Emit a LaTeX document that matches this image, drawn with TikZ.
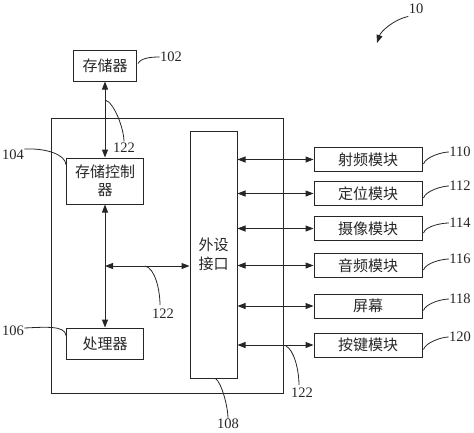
\documentclass[tikz,border=0pt]{standalone}
\usepackage{fontspec}
\setmainfont{Liberation Serif}
\newfontfamily\cjk{Noto Sans CJK SC}
\usetikzlibrary{positioning, arrows.meta}

\begin{document}
\begin{tikzpicture}[x=1pt,y=-1pt,>={Triangle[length=8pt,width=6pt]},
     line width=1pt, color=black!85,
     box/.style={draw, rectangle, inner sep=0pt, align=center,
                 font=\cjk\fontsize{15}{18.5}\selectfont},
     mod/.style={box, minimum width=108pt, minimum height=24pt},
     num/.style={inner sep=0pt, font=\fontsize{14.5}{16}\selectfont},
     lead/.style={-, line width=0.8pt}]

  \useasboundingbox (0,0) rectangle (474,432);

  % frame of the device
  \draw (51,118) rectangle (283,393);

  \node[box, minimum width=63pt, minimum height=31pt] (mem) at (105,65.5) {存储器};
  \node[box, minimum width=77pt, minimum height=46pt] (ctrl) at (105,181) {存储控制\\器};
  \node[box, minimum width=77pt, minimum height=31pt] (cpu) at (105,343.5) {处理器};
  \node[box, minimum width=47pt, minimum height=247pt] (io) at (213.5,254.5) {外设\\接口};
  \coordinate (hub) at (105,266);

  \node[mod] (rf)  at (368,159.5) {射频模块};
  \node[mod] (gps) at (368,193.5) {定位模块};
  \node[mod] (cam) at (368,228.5) {摄像模块};
  \node[mod] (aud) at (368,265.5) {音频模块};
  \node[mod] (scr) at (368,306)   {屏幕};
  \node[mod] (key) at (368,345)   {按键模块};

  % buses
  \draw[<->] (mem) -- (ctrl);
  \draw[<->] (ctrl) -- (cpu);
  \draw[<->] (hub) -- (hub -| io.west);
  \draw[<->] (io.east |- rf) -- (rf.west);
  \draw[<->] (io.east |- gps) -- (gps.west);
  \draw[<->] (io.east |- cam) -- (cam.west);
  \draw[<->] (io.east |- aud) -- (aud.west);
  \draw[<->] (io.east |- scr) -- (scr.west);
  \draw[<->] (io.east |- key) -- (key.west);

  % reference numbers
  \node[num] (n10)  at (416,9)   {10};
  \node[num] (n102) at (171,57)  {102};
  \node[num] (n104) at (13,155)  {104};
  \node[num] (n106) at (13,331)  {106};
  \node[num] (n108) at (228,424) {108};
  \node[num] (n122a) at (124,148) {122};
  \node[num] (n122b) at (163,314) {122};
  \node[num] (n122c) at (302,393) {122};
  \node[num] (n110) at (460,152) {110};
  \node[num] (n112) at (460,186) {112};
  \node[num] (n114) at (460,223) {114};
  \node[num] (n116) at (460,259) {116};
  \node[num] (n118) at (460,299) {118};
  \node[num] (n120) at (460,337) {120};

  % leaders
  \draw[lead, ->] ([yshift=-2pt]n10.south west) .. controls +(-14,3) and +(4,-12) .. (377,43);
  \draw[lead] ([xshift=1pt,yshift=2pt]mem.east) .. controls +(3,-6) and +(-7,0) .. (n102.west);
  \draw[lead] ([yshift=6pt]n104.east) .. controls +(22,-1) and +(-1,-10) .. ([yshift=-7pt]ctrl.north west);
  \draw[lead] ([yshift=3pt]n106.east) .. controls +(22,-1) and +(-1,-10) .. ([yshift=-8pt]cpu.north west);
  \draw[lead] ([xshift=2pt]io.south) .. controls +(6,4) and +(0,-12) .. (n108.north);
  \draw[lead] (105,100) .. controls +(9,2) and +(0,-13) .. ([yshift=1pt]n122a.north);
  \draw[lead] (145,266) .. controls +(10,2) and +(0,-15) .. (160,305);
  \draw[lead] (286,346) .. controls +(8,4) and +(0,-15) .. (299,385);
  \draw[lead] ([xshift=1pt,yshift=8pt]rf.south east)  .. controls +(2,-7) and +(-7,0) .. (n110.west);
  \draw[lead] ([xshift=1pt,yshift=8pt]gps.south east) .. controls +(2,-7) and +(-7,0) .. (n112.west);
  \draw[lead] ([xshift=1pt,yshift=8pt]cam.south east) .. controls +(2,-7) and +(-7,0) .. (n114.west);
  \draw[lead] ([xshift=1pt,yshift=8pt]aud.south east) .. controls +(2,-7) and +(-7,0) .. (n116.west);
  \draw[lead] ([xshift=1pt,yshift=8pt]scr.south east) .. controls +(2,-7) and +(-7,0) .. (n118.west);
  \draw[lead] ([xshift=1pt,yshift=8pt]key.south east) .. controls +(2,-7) and +(-7,0) .. (n120.west);
\end{tikzpicture}
\end{document}
